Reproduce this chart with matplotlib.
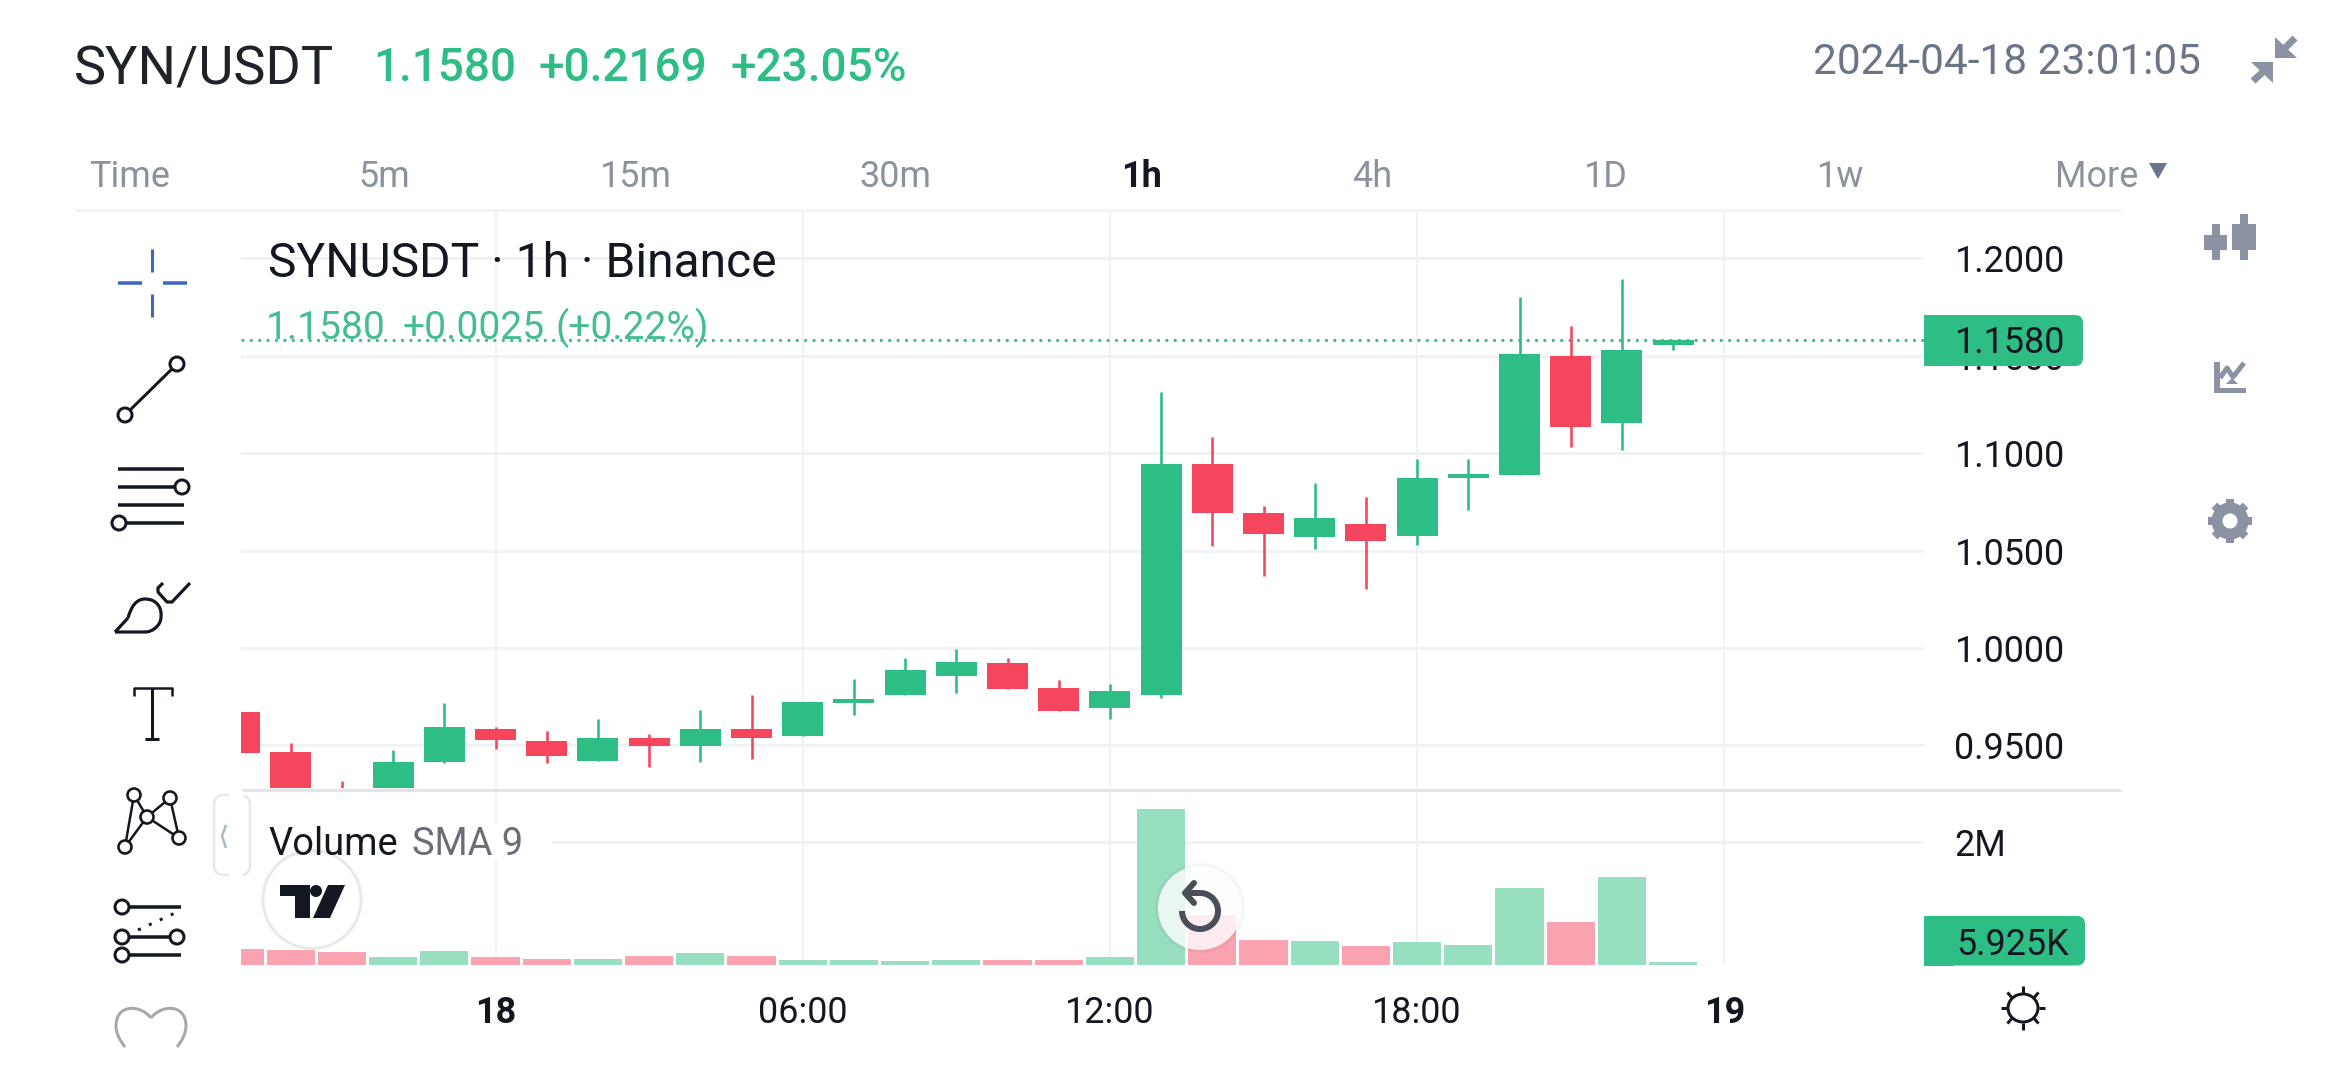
import numpy as np
import matplotlib
matplotlib.use('Agg')
import matplotlib.pyplot as plt
from matplotlib.patches import Circle, Ellipse, FancyBboxPatch, Rectangle, Polygon, PathPatch, Arc
from matplotlib.path import Path

plt.rcParams['font.family'] = ['Roboto', 'DejaVu Sans']

# hourly candles, hour 0 = start of the 18th
hours = list(range(-5, 24))
opens = [0.9673, 0.9467, 0.9250, 0.9200, 0.9415, 0.9585, 0.9523, 0.9421, 0.9539, 0.9498, 0.9585, 0.9550, 0.9719, 0.9760, 0.9857,
         0.9924, 0.9795, 0.9693, 0.9760, 1.0942, 1.0695, 1.0568, 1.0639, 1.0575, 1.0874, 1.0886, 1.1500, 1.1153, 1.1555]
closes = [0.9463, 0.9150, 0.9200, 0.9415, 0.9596, 0.9528, 0.9447, 0.9539, 0.9498, 0.9585, 0.9539, 0.9724, 0.9739, 0.9889, 0.9929,
          0.9790, 0.9679, 0.9781, 1.0946, 1.0695, 1.0586, 1.0665, 1.0549, 1.0875, 1.0893, 1.1511, 1.1137, 1.1532, 1.1580]
highs = [0.9673, 0.9512, 0.9318, 0.9477, 0.9719, 0.9596, 0.9574, 0.9636, 0.9560, 0.9682, 0.9760, 0.9724, 0.9841, 0.9949, 0.9993,
         0.9949, 0.9836, 0.9816, 1.1312, 1.1084, 1.0727, 1.0845, 1.0773, 1.0972, 1.0972, 1.1804, 1.1654, 1.1896, 1.1582]
lows = [0.9463, 0.9100, 0.9150, 0.9200, 0.9410, 0.9483, 0.9410, 0.9421, 0.9391, 0.9415, 0.9431, 0.9550, 0.9654, 0.9760, 0.9771,
        0.9790, 0.9679, 0.9636, 0.9744, 1.0526, 1.0371, 1.0510, 1.0304, 1.0529, 1.0706, 1.0886, 1.1031, 1.1018, 1.1532]
volumes = [0.263, 0.246, 0.218, 0.134, 0.235, 0.134, 0.101, 0.101, 0.151, 0.202, 0.151, 0.084, 0.084, 0.073, 0.084,
           0.084, 0.084, 0.134, 2.543, 0.812, 0.415, 0.398, 0.314, 0.381, 0.331, 1.261, 0.706, 1.434, 0.056]

price_ticks = [0.95, 1.0, 1.05, 1.1, 1.15, 1.2]
price_labels = ['0.9500', '1.0000', '1.0500', '1.1000', '1.1500', '1.2000']
time_ticks = [0, 6, 12, 18, 24]
time_labels = ['18', '06:00', '12:00', '18:00', '19']
tabs = ['5m', '15m', '30m', '1h', '4h', '1D', '1w']
tab_x = [384, 636, 895, 1141, 1372, 1606, 1841]

GREEN = '#2EBD85'
RED = '#F6465D'
GREEN_V = '#97DFBF'
RED_V = '#F9A3B0'
DARK = '#131722'
GREY = '#8A92A0'
ICON = '#8A92A3'
W, H = 2340, 1080


def pt(px):
    # sizes below are measured in image pixels
    return px * 72 / 100


fig = plt.figure(figsize=(W / 100, H / 100), dpi=100, facecolor='white')


def pane(x0, x1, y0, y1):
    return fig.add_axes([x0 / W, 1 - y1 / H, (x1 - x0) / W, (y1 - y0) / H])


x_left = (241 - 495.5) / 51.2
x_right = (1923.5 - 495.5) / 51.2

# price pane
ax = pane(241, 1923.5, 210, 788)
colors = [GREEN if c >= o else RED for o, c in zip(opens, closes)]
ax.vlines(hours, lows, highs, colors=colors, lw=pt(2.6), zorder=3, capstyle='butt')
ax.bar(hours, np.array(closes) - np.array(opens), bottom=opens, width=0.8, color=colors, zorder=4)
ax.axhline(closes[-1], color=GREEN, lw=pt(2.8), ls=(0, (1, 2)), zorder=2)
ax.set_xlim(x_left, x_right)
ax.set_ylim(1 - 140 / 1948, 1 + 438 / 1948)
ax.set_yticks(price_ticks)
ax.set_yticklabels(price_labels)
ax.set_xticks(time_ticks)
ax.tick_params(axis='x', length=0, labelbottom=False)
ax.tick_params(axis='y', length=0, right=False, left=False, labelleft=False, labelright=True,
               pad=pt(31), labelsize=pt(36), labelcolor=DARK)
ax.grid(axis='y', color='#F0F3F6', lw=pt(3))
ax.grid(axis='x', color='#EEF0F3', lw=pt(1.6))
ax.set_axisbelow(True)
for s in ax.spines.values():
    s.set_visible(False)

# volume pane
axv = pane(241, 1923.5, 790, 965)
vol_colors = [GREEN_V if c >= o else RED_V for o, c in zip(opens, closes)]
axv.bar(hours, volumes, width=0.94, color=vol_colors, zorder=3)
axv.set_xlim(x_left, x_right)
axv.set_ylim(0, 175 / 122.8 * 2)
axv.set_yticks([2])
axv.set_yticklabels(['2M'])
axv.set_xticks(time_ticks)
axv.set_xticklabels(time_labels)
axv.tick_params(axis='y', length=0, left=False, labelleft=False, labelright=True,
                pad=pt(31), labelsize=pt(36), labelcolor=DARK)
axv.tick_params(axis='x', length=0, pad=pt(30), labelsize=pt(36), labelcolor=DARK)
for lab, txt in zip(axv.get_xticklabels(), time_labels):
    if ':' not in txt:
        lab.set_fontweight('bold')
axv.grid(axis='y', color='#F0F3F6', lw=pt(3))
axv.grid(axis='x', color='#EEF0F3', lw=pt(1.6))
axv.set_axisbelow(True)
for s in axv.spines.values():
    s.set_visible(False)

# everything else (header, toolbars, tags) in image pixels
ov = fig.add_axes([0, 0, 1, 1], zorder=10)
ov.set_xlim(0, W)
ov.set_ylim(H, 0)
ov.axis('off')
ov.patch.set_alpha(0)


def label(x, y, s, size, color=DARK, weight='normal', ha='left', va='baseline'):
    ov.text(x, y, s, fontsize=pt(size), color=color, fontweight=weight, ha=ha, va=va, zorder=6)


def seg(xs, ys, color=DARK, lw=3, **kw):
    kw.setdefault('solid_capstyle', 'butt')
    ov.plot(xs, ys, color=color, lw=pt(lw), **kw)


def node(x, y, r=7, lw=3, color=DARK):
    ov.add_patch(Circle((x, y), r, fc='white', ec=color, lw=pt(lw), zorder=5))


# header
label(74, 84, 'SYN/USDT', 54, '#1E2329')
label(373, 81, '1.1580', 46, GREEN, 'medium')
label(539, 81, '+0.2169', 46, GREEN, 'medium')
label(731, 81, '+23.05%', 46, GREEN, 'medium')
label(1813, 74, '2024-04-18 23:01:05', 42.4, '#6B7585')
ov.add_patch(Polygon([(2275, 37), (2275, 58), (2297, 58)], fc=ICON, ec='none'))
seg([2284, 2295], [49, 38], ICON, 7)
ov.add_patch(Polygon([(2251, 62), (2273, 62), (2273, 83)], fc=ICON, ec='none'))
seg([2264, 2253], [71, 81], ICON, 7)

# timeframe tabs
label(89, 187, 'Time', 36, GREY)
for x, t in zip(tab_x, tabs):
    if t == '1h':
        label(x, 187, t, 36, DARK, 'bold', ha='center')
    else:
        label(x, 187, t, 36, GREY, ha='center')
label(2055, 187, 'More', 36, GREY)
ov.add_patch(Polygon([(2149, 163), (2167, 163), (2158, 179)], fc='#6B7585', ec='none'))
seg([74, 2121], [210, 210], '#F3F4F6', 3)
seg([241, 2121], [790, 790], '#E2E4EA', 3.2)

# legends
label(268, 277, 'SYNUSDT · 1h · Binance', 48)
label(266, 339, '1.1580', 39, '#45BE8F')
label(403, 339, '+0.0025', 39, '#45BE8F')
label(555, 339, '(+0.22%)', 39, '#45BE8F')
ov.add_patch(Rectangle((241, 825), 311, 35, fc='white', ec='none', zorder=1))
label(268, 855, 'Volume', 38)
label(412, 855, 'SMA 9', 38, '#6A6D78')

# price and volume tags
ov.add_patch(FancyBboxPatch((1932, 323), 143, 35, boxstyle='round,pad=8,rounding_size=8', fc=GREEN, ec='none'))
ov.add_patch(Rectangle((1923.5, 315), 30, 51, fc=GREEN, ec='none'))
label(1955, 353, '1.1580', 36)
ov.add_patch(FancyBboxPatch((1932, 924), 145, 33.5, boxstyle='round,pad=8,rounding_size=8', fc=GREEN, ec='none'))
ov.add_patch(Rectangle((1923.5, 916), 30, 49.5, fc=GREEN, ec='none'))
label(1956, 955, '5.925K', 36)

# TradingView badge
ov.add_patch(Circle((312, 899.5), 49, fc='white', ec='#E9E9EB', lw=pt(3), zorder=3))
ov.add_patch(Polygon([(280, 885), (310, 885), (310, 918), (295, 918), (295, 896), (280, 896)], fc=DARK, ec='none', zorder=4))
ov.add_patch(Circle((316, 891), 6, fc=DARK, ec='none', zorder=4))
ov.add_patch(Polygon([(328, 885), (345, 885), (330, 918), (313, 918)], fc=DARK, ec='none', zorder=4))

# reset button
ov.add_patch(Circle((1200, 908), 45, fc='#000000', ec='none', alpha=0.04, zorder=3))
ov.add_patch(Circle((1200, 908), 42, fc='white', ec='none', alpha=0.82, zorder=3))
ov.add_patch(Arc((1200, 911), 36, 36, theta1=-90, theta2=180, color='#4A4E59', lw=pt(6), zorder=4))
seg([1200, 1185], [893, 893], '#4A4E59', 6, zorder=4)
seg([1194, 1185, 1194], [883, 893, 903], '#4A4E59', 6, zorder=4, solid_capstyle='round')

# collapse handle
ov.add_patch(FancyBboxPatch((222, 803), 20, 64, boxstyle='round,pad=8,rounding_size=10', fc='white', ec='#E6E8EC', lw=pt(2.5), zorder=1))
ov.add_patch(Rectangle((229, 790), 14, 90, fc='white', ec='none', zorder=2))
seg([226, 222, 226], [825, 836, 848], '#A9BAC4', 2.5, zorder=3)

# left toolbar
blue = '#3B66C8'
seg([118, 142], [283, 283], blue, 3.5)
seg([163, 187], [283, 283], blue, 3.5)
seg([152, 152], [249, 272], blue, 3)
seg([152, 152], [294, 317], blue, 3)

seg([125, 177], [415, 364])
node(125, 415)
node(177, 364)

for y in [469, 487, 505, 523]:
    seg([118, 184], [y, y], DARK, 3.5)
node(182, 487)
node(119, 523)

brush = Path([(115, 632), (145, 632), (128, 618), (133, 599), (145, 599), (157, 599), (162, 608), (161, 617),
              (161, 625), (153, 632), (145, 632)],
             [Path.MOVETO, Path.LINETO, Path.MOVETO, Path.CURVE3, Path.CURVE3, Path.CURVE4, Path.CURVE4, Path.CURVE4,
              Path.CURVE4, Path.CURVE4, Path.CURVE4])
ov.add_patch(PathPatch(brush, fc='none', ec=DARK, lw=pt(3.2)))
seg([115, 128], [632, 618], DARK, 3.2)
seg([163, 158, 158, 167, 172, 190], [583, 588, 592, 602, 602, 583], DARK, 3.2, solid_joinstyle='round')

seg([152, 152], [688, 739], DARK, 3)
seg([134, 134, 172, 172], [696, 688, 688, 696], DARK, 2.5)
seg([145, 159], [739, 739], DARK, 3)

pts = [(134, 795), (170, 798), (147, 817), (125, 847), (179, 838)]
for i, j in [(0, 2), (2, 4), (1, 2), (2, 3), (0, 3), (1, 4)]:
    seg([pts[i][0], pts[j][0]], [pts[i][1], pts[j][1]], DARK, 2.5)
for p in pts:
    node(p[0], p[1], 6.5, 2.6)

seg([116, 181], [907, 907], DARK, 3.5)
seg([122, 177], [937, 937], DARK, 3.5)
seg([116, 181], [955, 955], DARK, 3.5)
seg([138, 175], [930, 913], DARK, 3, ls=(0, (1, 3)))
node(122, 907)
node(122, 937)
node(177, 937)
node(122, 955)

heart = Path([(151, 1018), (140, 1004), (116, 1004), (116, 1026), (116, 1036), (125, 1047)],
             [Path.MOVETO, Path.CURVE4, Path.CURVE4, Path.CURVE4, Path.CURVE3, Path.CURVE3])
heart2 = Path([(151, 1018), (162, 1004), (186, 1004), (186, 1026), (186, 1036), (177, 1047)],
              [Path.MOVETO, Path.CURVE4, Path.CURVE4, Path.CURVE4, Path.CURVE3, Path.CURVE3])
ov.add_patch(PathPatch(heart, fc='none', ec='#A6A8AB', lw=pt(3)))
ov.add_patch(PathPatch(heart2, fc='none', ec='#A6A8AB', lw=pt(3)))

# right toolbar
ov.add_patch(Rectangle((2212, 224), 7.5, 36, fc=ICON, ec='none'))
ov.add_patch(Rectangle((2204, 235), 23, 15, fc=ICON, ec='none'))
ov.add_patch(Rectangle((2240, 214), 8, 46, fc=ICON, ec='none'))
ov.add_patch(Rectangle((2232, 224), 24, 26, fc=ICON, ec='none'))

ov.add_patch(Rectangle((2214, 362), 6, 31, fc=ICON, ec='none'))
ov.add_patch(Rectangle((2214, 388), 32, 5, fc=ICON, ec='none'))
seg([2220, 2227, 2233, 2244], [378, 368, 377, 363], ICON, 5)
ov.add_patch(Polygon([(2232, 378), (2226, 384), (2238, 384)], fc=ICON, ec='none'))

ov.add_patch(Circle((2230, 521), 13, fc='none', ec=ICON, lw=pt(11)))
for a in np.deg2rad([0, 45, 90, 135]):
    dx, dy = 22 * np.cos(a), 22 * np.sin(a)
    seg([2230 - dx, 2230 + dx], [521 - dy, 521 + dy], ICON, 8, zorder=1)
ov.add_patch(Circle((2230, 521), 7.5, fc='white', ec='none', zorder=3))

# sun
ov.add_patch(Ellipse((2023, 1008), 30, 28, fc='white', ec=DARK, lw=pt(3)))
for a in np.deg2rad(np.arange(0, 360, 45)):
    seg([2023 + 16 * np.cos(a), 2023 + 22 * np.cos(a)], [1008 + 15 * np.sin(a), 1008 + 22 * np.sin(a)], DARK, 3)

fig.savefig('out.png', dpi=100)
